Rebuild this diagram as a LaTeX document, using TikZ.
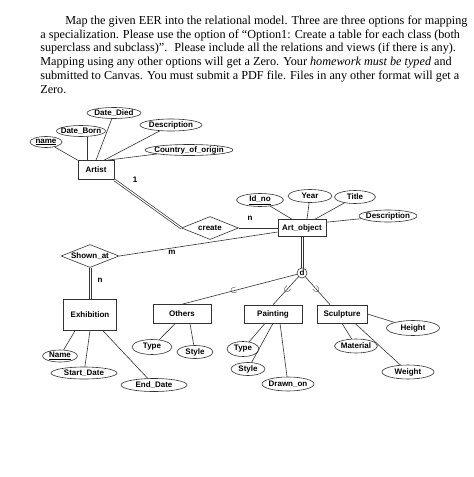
\documentclass[tikz,border=0pt]{standalone}
\usepackage{fontspec}
\setmainfont{Liberation Serif}
\setsansfont{Liberation Sans}
\usetikzlibrary{shapes.geometric}

\tikzset{
  attr/.style={ellipse,draw,inner xsep=-40pt,inner ysep=-10pt,minimum height=12pt},
  entity/.style={draw,minimum height=18pt},
  rel/.style={diamond,draw,inner sep=-30pt,minimum width=57pt,minimum height=23pt},
  card/.style={inner sep=0pt},
  dbl/.style={double=white,double distance=1.1pt,line width=0.7pt},
  subset/.style={sloped,allow upside down,inner sep=0pt,font=\small},
}

\begin{document}
\begin{tikzpicture}[x=1pt,y=-1pt,line width=0.6pt,draw=black!80,
  font=\sffamily\bfseries\fontsize{8}{9}\selectfont]
  \useasboundingbox (0,0) rectangle (474,477);

  % task text
  \node[anchor=north west,align=left,inner sep=0pt,
    font=\rmfamily\mdseries\fontsize{12.2}{13.8}\selectfont] (task) at (40,15.5)
    {\hspace*{25pt}Map the given EER into the relational model. Three are three options for mapping\\
     a specialization. Please use the option of “Option1: Create a table for each class (both\\
     superclass and subclass)”. \ Please include all the relations and views (if there is any).\\
     Mapping using any other options will get a Zero. Your \textit{homework must be typed} and\\
     submitted to Canvas. You must submit a PDF file. Files in any other format will get a\\
     Zero.};

  % Artist
  \node[entity,minimum width=36pt,minimum height=19pt] (artist) at (96,170) {Artist};
  \node[attr,minimum width=32pt,minimum height=11pt] (name) at (46,142) {\underline{name}};
  \node[attr,minimum width=49pt,minimum height=11pt] (dborn) at (81,131) {Date\_Born};
  \node[attr,minimum width=54pt,minimum height=11pt] (ddied) at (114,113) {Date\_Died};
  \node[attr,minimum width=62pt] (descA) at (171,125) {Description};
  \node[attr,minimum width=88pt,minimum height=11pt] (country) at (189,150) {Country\_of\_origin};

  % Art_object
  \node[rel] (create) at (210,228) {create};
  \node[entity,minimum width=48pt,minimum height=17pt] (artobj) at (302,228) {Art\_object};
  \node[attr,minimum width=47pt,minimum height=13pt] (idno) at (260,200) {\underline{Id\_no}};
  \node[attr,minimum width=44pt,minimum height=13pt] (year) at (310,196) {Year};
  \node[attr,minimum width=41pt,minimum height=13pt] (title) at (355,197) {Title};
  \node[attr,minimum width=58pt] (descB) at (388,216) {Description};

  % Exhibition
  \node[rel,minimum width=58pt] (shown) at (90,256) {Shown\_at};
  \node[entity,minimum width=53pt,minimum height=31pt] (exhib) at (90,315) {Exhibition};
  \node[attr,minimum width=35pt] (ename) at (60,356) {\underline{Name}};
  \node[attr,minimum width=66pt] (sdate) at (84,373) {Start\_Date};
  \node[attr,minimum width=66pt,minimum height=13pt] (edate) at (154,385) {End\_Date};

  % specialization
  \node[circle,draw,inner sep=0pt,minimum size=10pt] (d) at (302,273) {d};
  \node[entity,minimum width=58pt,minimum height=19pt] (others) at (182,314) {Others};
  \node[entity,minimum width=58pt] (painting) at (273,314) {Painting};
  \node[entity,minimum width=50pt] (sculpture) at (342,314) {Sculpture};
  \node[attr,minimum width=40pt,minimum height=15pt] (otype) at (152,347) {Type};
  \node[attr,minimum width=36pt,minimum height=13pt] (ostyle) at (195,352) {Style};
  \node[attr,minimum width=32pt,minimum height=15pt] (ptype) at (243,349) {Type};
  \node[attr,minimum width=34pt,minimum height=13pt] (pstyle) at (248,369) {Style};
  \node[attr,minimum width=52pt,minimum height=14pt] (drawn) at (288,384) {Drawn\_on};
  \node[attr,minimum width=43pt,minimum height=14pt] (material) at (356,346) {Material};
  \node[attr,minimum width=53pt,minimum height=15pt] (height) at (413,328) {Height};
  \node[attr,minimum width=52pt,minimum height=14pt] (weight) at (408,372) {Weight};

  % cardinalities
  \node[card] (c1) at (135,180) {1};
  \node[card] (cn1) at (250,218) {n};
  \node[card] (cm) at (172,252) {m};
  \node[card] (cn2) at (100,280) {n};

  % connectors
  \draw (name) -- (artist.north west);
  \draw ([xshift=6pt]dborn.south) -- ([xshift=-9pt]artist.north);
  \draw (ddied) -- (artist.north);
  \draw (descA) -- ([xshift=8pt]artist.north);
  \draw (country) -- ([xshift=11pt]artist.north);
  \draw[dbl] (artist.south east) -- (create.west);
  \draw (create.east) -- (artobj.west);
  \draw (shown.east) -- ([yshift=-4pt]artobj.west);
  \draw (idno) -- ([xshift=-10pt]artobj.north);
  \draw (year) -- ([xshift=5pt]artobj.north);
  \draw (title) -- ([xshift=13pt]artobj.north);
  \draw (descB) -- ([yshift=-3pt]artobj.north east);
  % total participation (vertical double lines)
  \foreach \s in {-1.2,1.2}{
    \draw ([xshift=\s pt]shown.south) -- ([xshift=\s pt]exhib.north);
    \draw ([xshift=\s pt]artobj.south) -- ([xshift=\s pt]d.north);
  }
  \draw ([xshift=-15pt]exhib.south) -- (ename);
  \draw (exhib.south) -- (sdate);
  \draw ([xshift=13pt]exhib.south) -- (edate);
  \draw (d) -- node[subset,pos=0.55] (sub1) {$\supset$} (others.north);
  \draw (d) -- node[subset,pos=0.45] (sub2) {$\supset$} (painting.north);
  \draw (d) -- node[subset,pos=0.45] (sub3) {$\supset$} ([xshift=-12pt]sculpture.north);
  \draw ([xshift=-7pt]others.south) -- (otype);
  \draw ([xshift=8pt]others.south) -- (ostyle);
  \draw ([xshift=-8pt]painting.south) -- (ptype);
  \draw (painting.south) -- (pstyle);
  \draw ([xshift=7pt]painting.south) -- (drawn);
  \draw (sculpture.east) -- (height);
  \draw (sculpture.south) -- (material);
  \draw ([xshift=13pt]sculpture.south) -- (weight);
\end{tikzpicture}
\end{document}
